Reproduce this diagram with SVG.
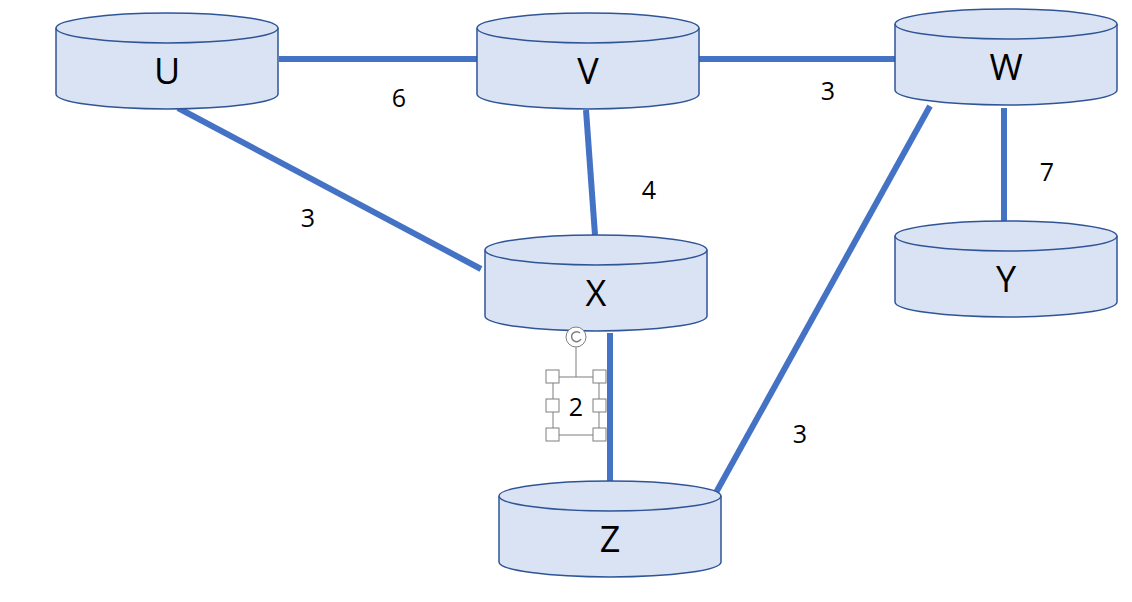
<svg xmlns="http://www.w3.org/2000/svg" width="1132" height="602" viewBox="0 0 1132 602">
<style>
.body{fill:#DAE3F3;stroke:#2F5597;stroke-width:1.5}
.e{stroke:#4472C4;stroke-width:6;fill:none}
.n{font-family:"Open Sans","Liberation Sans",sans-serif;font-size:36px;text-anchor:middle;fill:#000}
.w{font-family:"Open Sans","Liberation Sans",sans-serif;font-size:25px;text-anchor:middle;fill:#000}
.h{fill:#fff;stroke:#7f7f7f;stroke-width:1}
</style>
<rect width="1132" height="602" fill="#fff"/>
<defs>
<g id="cyl">
<path class="body" d="M0,15 A111,15 0 0 1 222,15 L222,81 A111,15 0 0 1 0,81 Z"/>
<path class="body" d="M0,15 A111,15 0 0 0 222,15"/>
</g>
</defs>
<g id="connectors">
<line class="e" x1="279" y1="59" x2="477" y2="59"/>
<line class="e" x1="699" y1="59" x2="895" y2="59"/>
<line class="e" x1="178" y1="108" x2="481" y2="269"/>
<line class="e" x1="586" y1="110" x2="595" y2="235"/>
<line class="e" x1="1004" y1="108" x2="1004" y2="221"/>
<line class="e" x1="610" y1="333" x2="610" y2="481"/>
<line class="e" x1="930" y1="106" x2="713" y2="498"/>
</g>
<g id="U"><use href="#cyl" x="56" y="13"/><text class="n" x="167" y="84">U</text></g>
<g id="V"><use href="#cyl" x="477" y="13"/><text class="n" x="588" y="84">V</text></g>
<g id="W"><use href="#cyl" x="895" y="9"/><text class="n" x="1006" y="80">W</text></g>
<g id="Y"><use href="#cyl" x="895" y="221"/><text class="n" x="1006" y="292">Y</text></g>
<g id="X"><use href="#cyl" x="485" y="235"/><text class="n" x="596" y="306">X</text></g>
<g id="Z"><use href="#cyl" x="499" y="481"/><text class="n" x="610" y="552">Z</text></g>
<g id="labels">
<text class="w" x="399" y="107">6</text>
<text class="w" x="828" y="100">3</text>
<text class="w" x="308" y="227">3</text>
<text class="w" x="649" y="199">4</text>
<text class="w" x="1047" y="181">7</text>
<text class="w" x="800" y="443">3</text>
</g>
<g id="selection">
<rect x="553" y="377" width="46" height="58" fill="none" stroke="#7f7f7f" stroke-width="1"/>
<line x1="576" y1="347" x2="576" y2="377" stroke="#7f7f7f"/>
<circle cx="576" cy="337" r="10" class="h"/>
<path d="M580,333 A5,5 0 1 0 581,339" fill="none" stroke="#7f7f7f" stroke-width="1.5"/>
<rect class="h" x="546" y="370" width="13" height="13"/>
<rect class="h" x="593" y="370" width="13" height="13"/>
<rect class="h" x="546" y="399" width="13" height="13"/>
<rect class="h" x="593" y="399" width="13" height="13"/>
<rect class="h" x="546" y="428" width="13" height="13"/>
<rect class="h" x="593" y="428" width="13" height="13"/>
<text class="w" x="576" y="416">2</text>
</g>
</svg>
